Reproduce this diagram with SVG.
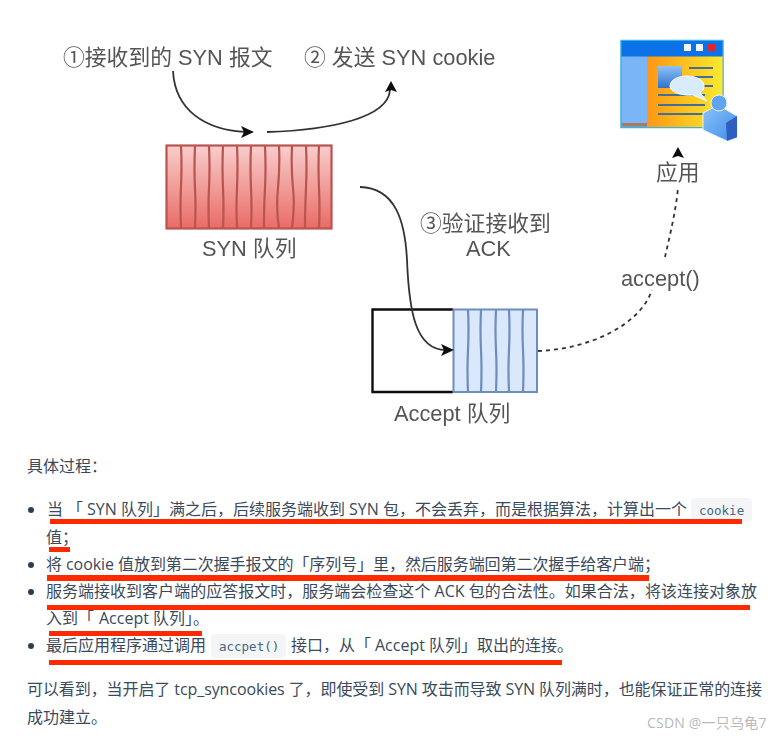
<svg xmlns="http://www.w3.org/2000/svg" width="775" height="737" viewBox="0 0 775 737">
<style>
text{font-family:"Open Sans","Noto Sans CJK SC",sans-serif}
.d{font-family:"Liberation Sans","Noto Sans CJK SC",sans-serif;font-size:21.800px;fill:#555}
.b{font-size:16px;fill:#3a4a5a}
.c{font-family:"DejaVu Sans Mono",monospace;font-size:12.500px;fill:#476582}
.u{fill:#ff2a00}
.dot{fill:#2c3e50}
.code{fill:#f3f5f7}
.conn{fill:none;stroke:#333;stroke-width:1.800}
.dash{stroke-dasharray:4 4}
.head{fill:#111}
.red{fill:none;stroke:#b85450;stroke-width:2.200}
.blue{fill:none;stroke:#6c8ebf;stroke-width:2.200}
.wm{font-size:14px;fill:#b9b9b9;letter-spacing:.2px}
</style>
<defs>
<linearGradient id="rg" x1="0" y1="0" x2="0" y2="1"><stop offset="0" stop-color="#f8cecc"/><stop offset="1" stop-color="#ea6b66"/></linearGradient>
<linearGradient id="og" x1="0" y1="0" x2="1" y2="0"><stop offset="0" stop-color="#ff9612"/><stop offset="1" stop-color="#fbe92e"/></linearGradient>
<linearGradient id="bg" x1="0" y1="0" x2="0" y2="1"><stop offset="0" stop-color="#8fc3f5"/><stop offset="1" stop-color="#2f72d0"/></linearGradient>
<linearGradient id="cg" x1="0" y1="0" x2="1" y2="1"><stop offset="0" stop-color="#8cc4fa"/><stop offset="1" stop-color="#3f8be8"/></linearGradient>
<filter id="soft" x="-5%" y="-5%" width="110%" height="110%"><feGaussianBlur stdDeviation="0.45"/></filter>
</defs>
<rect width="775" height="737" fill="#fff"/>
<g filter="url(#soft)">
<g id="syn-queue">
<rect x="166.500" y="145.500" width="165" height="83" fill="url(#rg)" stroke="#b85450" stroke-width="2.200"/>
<path class="red" d="M181 146q1 20 0 40t0 42M195 146q-1 24 0 42t0 40M209 146q1 24 0 42t0 40M223 146q-1 20 0 42t0 40M237 146q1 20 0 42t0 40M251 146q-1 20 0 42t0 40M265 146q1 24 0 42t-1 40M279 146q1 20 -1 42t1 40M292 146q-1 24 1 42t-1 40M306 146q1 20 0 42t-1 40M319 146q-1 20 0 42t0 40"/>
<text class="d" x="202" y="256">SYN 队列</text>
</g>
<g id="accept-queue">
<path d="M453 309.500H372.500V392H453" fill="#fff" stroke="#111" stroke-width="2.400"/>
<rect x="453.500" y="309.500" width="83.500" height="82.500" fill="#dae8fc" stroke="#6c8ebf" stroke-width="2"/>
<path class="blue" d="M468 310q1 20 0 40t0 42M481 310q-1 20 0 40t0 42M496 310q-1 20 0 40t0 42M509 310q1 20 0 40t0 42M523 310q-1 20 0 40t0 42"/>
<text class="d" x="394" y="421">Accept 队列</text>
</g>
<g id="app">
<rect x="621" y="40.500" width="102" height="87" fill="#7ab5f7" stroke="#35b4e8" stroke-width="1.500"/>
<rect x="647" y="56" width="75.500" height="71" fill="url(#og)"/>
<rect x="621.500" y="41" width="101" height="15.500" fill="#0a72e8"/>
<rect x="622" y="123" width="25" height="3.500" fill="#a87a60"/>
<rect x="684" y="44" width="7" height="7" fill="#f4f8ff"/><rect x="696" y="44" width="7" height="7" fill="#f4f8ff"/><rect x="708" y="44" width="7" height="7" fill="#e8202a"/>
<rect x="658" y="66" width="24" height="22" fill="url(#bg)"/>
<path d="M689 68h24M689 77h24M689 86h24M658 95h47M658 105h47M658 114h47" stroke="#3f6f96" stroke-width="2" fill="none"/>
<path d="M670 86c0-6 8-10 17-10s17 4 17 10c0 3-1 5-4 7l7 8-14-6c-12 1-23-3-23-9z" fill="#d9ecfc" stroke="#fff"/>
<path d="M703 113l15-8 19 11v22l-10 3-24-11z" fill="url(#cg)" stroke="#eaf4ff"/>
<path d="M726 123l11-7v21l-10 4z" fill="#2f5fc0"/>
<circle cx="719" cy="103" r="8" fill="#5fa4ef" stroke="#eaf4ff"/>
<text class="d" x="656" y="180">应用</text>
</g>
<g id="labels">
<text class="d" x="63" y="65">①接收到的 SYN 报文</text>
<text class="d" x="304" y="65">② 发送 SYN cookie</text>
<text class="d" x="420" y="231">③验证接收到</text>
<text class="d" x="466" y="256">ACK</text>
<text class="d" x="621" y="286">accept()</text>
</g>
<g id="connectors">
<path class="conn" d="M173 71C175 110 205 130 246 132"/>
<path class="head" d="M254 132L241 126L244 132L241 138Z"/>
<path class="conn" d="M267 132C330 130 388 118 390 90"/>
<path class="head" d="M391 81L385 92L391 90L397 92Z"/>
<path class="conn" d="M360 187C395 188 405 220 407 260C409 310 415 350 446 350"/>
<path class="head" d="M454 350L441 344L444 350L441 356Z"/>
<path class="conn dash" d="M538 351C590 349 640 325 652 290"/>
<path class="conn dash" d="M665 257C670 235 676 210 678 188"/>
<path class="head" d="M678 147L672 158L678 156L684 158Z"/>
</g>
</g>
<g id="article">
<text class="b" x="27" y="472">具体过程：</text>
<circle class="dot" cx="31" cy="510" r="3"/><circle class="dot" cx="31" cy="565" r="3"/><circle class="dot" cx="31" cy="592" r="3"/><circle class="dot" cx="31" cy="646" r="3"/>
<text class="b" y="515"><tspan x="47">当</tspan><tspan x="67">「</tspan><tspan x="87">SYN 队列」满之后，后续服务端收到 SYN 包，不会丢弃，而是根据算法，计算出一个</tspan></text>
<rect class="code" x="691" y="498" width="61" height="24" rx="4"/>
<text class="c" x="699" y="515">cookie</text>
<text class="b" x="46" y="543">值；</text>
<text class="b" x="46" y="570" textLength="614">将 cookie 值放到第二次握手报文的「序列号」里，然后服务端回第二次握手给客户端；</text>
<text class="b" x="46" y="597" textLength="711">服务端接收到客户端的应答报文时，服务端会检查这个 ACK 包的合法性。如果合法，将该连接对象放</text>
<text class="b" y="624"><tspan x="46">入到「</tspan><tspan x="99">Accept 队列」。</tspan></text>
<text class="b" x="46" y="651">最后应用程序通过调用</text>
<rect class="code" x="211" y="634" width="75" height="24" rx="4"/>
<text class="c" x="219" y="651">accpet()</text>
<text class="b" y="651"><tspan x="291">接口，从「</tspan><tspan x="375">Accept 队列」取出的连接。</tspan></text>
<text class="b" x="27" y="695" textLength="735">可以看到，当开启了 tcp_syncookies 了，即使受到 SYN 攻击而导致 SYN 队列满时，也能保证正常的连接</text>
<text class="b" x="27" y="723">成功建立。</text>
<rect class="u" x="50" y="519" width="692" height="5"/>
<rect class="u" x="49" y="547" width="21" height="5"/>
<rect class="u" x="47" y="575" width="602" height="6"/>
<rect class="u" x="47" y="605" width="703" height="5"/>
<rect class="u" x="49" y="631" width="153" height="5"/>
<rect class="u" x="49" y="660" width="513" height="5"/>
<text class="wm" x="647" y="728">CSDN @一只乌龟7</text>
</g>
</svg>
